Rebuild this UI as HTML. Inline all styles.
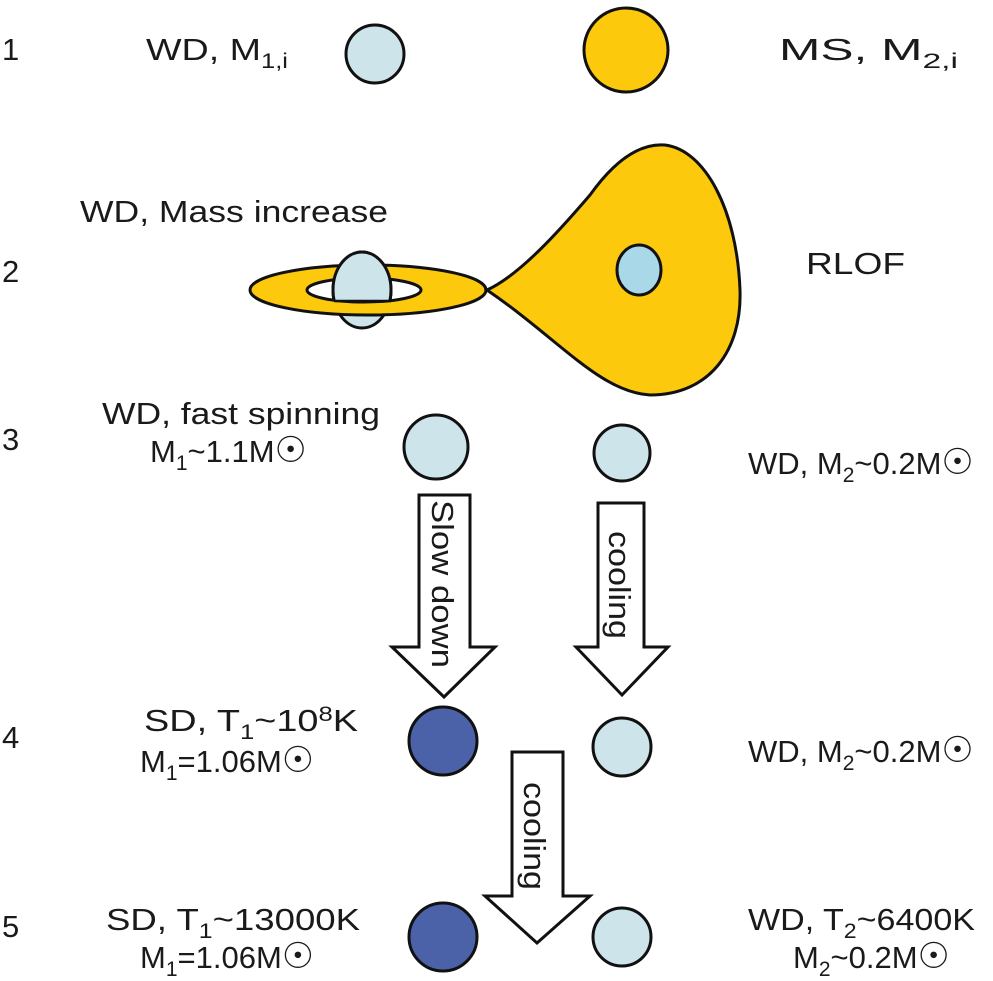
<!DOCTYPE html>
<html><head><meta charset="utf-8"><style>
body{margin:0;background:#fff;}
svg{display:block;font-family:"Liberation Sans",sans-serif;}
text{font-size:31px;fill:#1a1a1a;}
</style></head><body>
<svg width="993" height="981" viewBox="0 0 993 981">
<defs><clipPath id="top"><rect x="300" y="240" width="120" height="61"/></clipPath></defs>
<g stroke="#111" stroke-width="3">
<circle cx="375" cy="54" r="29" fill="#cce4ea"/>
<circle cx="626" cy="50" r="42" fill="#fcc90d"/>
<ellipse cx="362" cy="290" rx="29" ry="38" fill="#cce4ea"/>
<path d="M250,290 A118,25 0 1,0 486,290 A118,25 0 1,0 250,290 Z M307,290 A57,12 0 1,0 421,290 A57,12 0 1,0 307,290 Z" fill="#fcc90d" fill-rule="evenodd"/>
<ellipse cx="362" cy="290" rx="29" ry="38" fill="#cce4ea" clip-path="url(#top)"/>
<path d="M334,301 L391,301" stroke-width="2.5"/>
<path d="M487,290 C520,275 560,230 590,195 C615,160 640,143 665,145 C705,150 737,210 740,290 C742,350 710,395 650,395 C600,392 560,340 487,290 Z" fill="#fcc90d"/>
<ellipse cx="639" cy="270" rx="22" ry="25" fill="#a9d8e8"/>
<circle cx="436" cy="447" r="32" fill="#cce4ea"/>
<circle cx="622" cy="453" r="28" fill="#cce4ea"/>
<circle cx="443" cy="741" r="34" fill="#4b62a8"/>
<circle cx="622" cy="747" r="29" fill="#cce4ea"/>
<circle cx="443" cy="937" r="34" fill="#4b62a8"/>
<circle cx="622" cy="937" r="29" fill="#cce4ea"/>
<path d="M419,495 L470,495 L470,647 L495,647 L444,697 L392,647 L419,647 Z" fill="#fff"/>
<path d="M598,503 L644,503 L644,647 L668,647 L622,695 L576,647 L598,647 Z" fill="#fff"/>
<path d="M512,752 L563,752 L563,896 L590,896 L537,943 L485,896 L512,896 Z" fill="#fff"/>
</g>
<text x="432" y="500" transform="rotate(90 432 500)" textLength="168" lengthAdjust="spacingAndGlyphs">Slow down</text>
<text x="609" y="531" transform="rotate(90 609 531)" textLength="108" lengthAdjust="spacingAndGlyphs">cooling</text>
<text x="524" y="782" transform="rotate(90 524 782)" textLength="108" lengthAdjust="spacingAndGlyphs">cooling</text>
<text x="2" y="60">1</text>
<text x="2" y="282">2</text>
<text x="2" y="450">3</text>
<text x="2" y="748">4</text>
<text x="2" y="937">5</text>
<text x="146" y="60" textLength="142" lengthAdjust="spacingAndGlyphs">WD, M<tspan font-size="21" dy="8">1,i</tspan></text>
<text x="779" y="60" textLength="179" lengthAdjust="spacingAndGlyphs">MS, M<tspan font-size="21" dy="8">2,i</tspan></text>
<text x="80" y="222" textLength="308" lengthAdjust="spacingAndGlyphs">WD, Mass increase</text>
<text x="806" y="274" textLength="99" lengthAdjust="spacingAndGlyphs">RLOF</text>
<text x="102" y="424" textLength="278" lengthAdjust="spacingAndGlyphs">WD, fast spinning</text>
<text x="150" y="462">M<tspan font-size="21" dy="8">1</tspan><tspan dy="-8">~1.1M</tspan><tspan font-size="36">☉</tspan></text>
<text x="748" y="474">WD, M<tspan font-size="21" dy="8">2</tspan><tspan dy="-8">~0.2M</tspan><tspan font-size="36">☉</tspan></text>
<text x="144" y="731" textLength="214" lengthAdjust="spacingAndGlyphs">SD, T<tspan font-size="21" dy="8">1</tspan><tspan dy="-8">~10</tspan><tspan font-size="21" dy="-10">8</tspan><tspan dy="10">K</tspan></text>
<text x="140" y="772">M<tspan font-size="21" dy="8">1</tspan><tspan dy="-8">=1.06M</tspan><tspan font-size="36">☉</tspan></text>
<text x="748" y="762">WD, M<tspan font-size="21" dy="8">2</tspan><tspan dy="-8">~0.2M</tspan><tspan font-size="36">☉</tspan></text>
<text x="106" y="930" textLength="254" lengthAdjust="spacingAndGlyphs">SD, T<tspan font-size="21" dy="8">1</tspan><tspan dy="-8">~13000K</tspan></text>
<text x="140" y="968">M<tspan font-size="21" dy="8">1</tspan><tspan dy="-8">=1.06M</tspan><tspan font-size="36">☉</tspan></text>
<text x="748" y="930" textLength="227" lengthAdjust="spacingAndGlyphs">WD, T<tspan font-size="21" dy="8">2</tspan><tspan dy="-8">~6400K</tspan></text>
<text x="793" y="968">M<tspan font-size="21" dy="8">2</tspan><tspan dy="-8">~0.2M</tspan><tspan font-size="36">☉</tspan></text>
</svg>
</body></html>
